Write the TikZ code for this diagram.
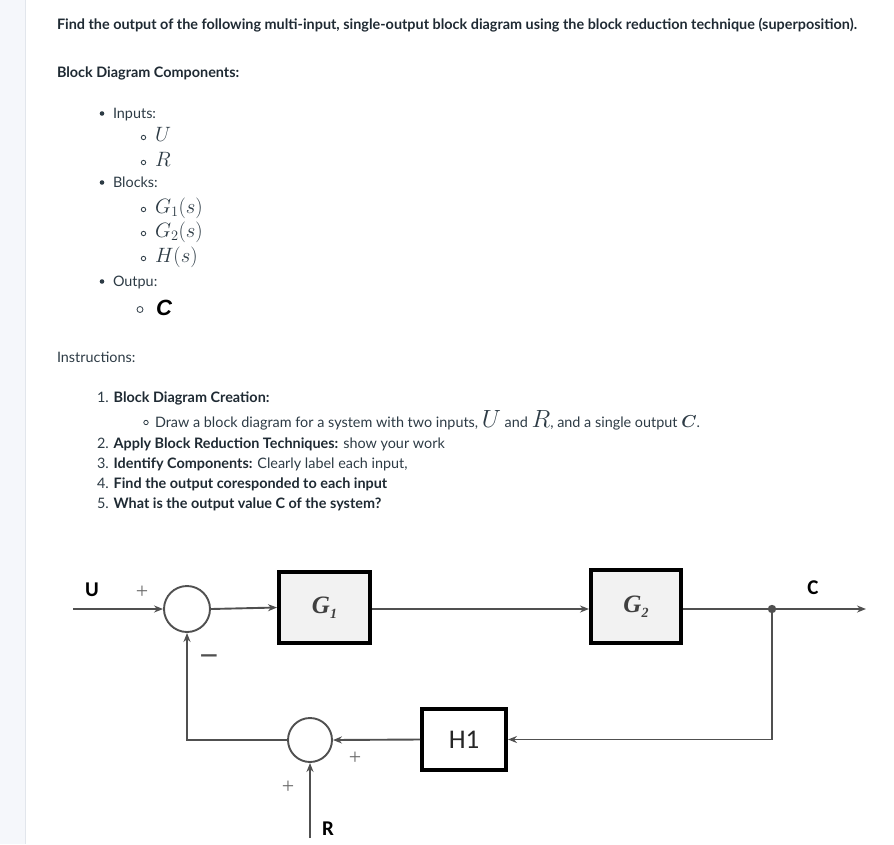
\documentclass[tikz,border=0pt]{standalone}
\usepackage{amsmath}
\usepackage{fontspec}
\setmainfont{Lato}
\newfontfamily\carlito{Carlito}
\newfontfamily\libserif{Liberation Serif}
\newfontfamily\libsans{Liberation Sans}
\usetikzlibrary{arrows.meta}
\definecolor{txt}{HTML}{2D3B45}
\definecolor{bold}{HTML}{1F2A33}
\definecolor{wire}{HTML}{505050}
\definecolor{boxfill}{HTML}{F2F2F2}
\definecolor{strip}{HTML}{F5F7FB}
\definecolor{stripline}{HTML}{E2E6EC}
\definecolor{sign}{HTML}{6A6A6A}
\tikzset{
  txtnode/.style={anchor=base west, inner sep=0pt, outer sep=0pt, text=txt, font=\fontsize{14.4}{17}\selectfont},
  mathnode/.style={anchor=base west, inner sep=0pt, outer sep=0pt, text=txt, font=\fontsize{22.5}{25}\selectfont},
  bulletA/.style={fill=txt},
  bulletB/.style={draw=txt, line width=0.8pt},
  wireline/.style={draw=wire, line width=1.9pt},
  arr/.style={-{Stealth[length=9pt,width=7pt]}},
  sumc/.style={circle, draw=wire, line width=1.9pt, fill=white, minimum size=46pt, inner sep=0pt},
  blk/.style={rectangle, draw=black, line width=4pt, inner sep=0pt},
  lbl/.style={inner sep=0pt, font=\carlito\bfseries\fontsize{21}{21}\selectfont, text=black},
  sgn/.style={inner sep=0pt, text=sign, font=\libserif\fontsize{22}{22}\selectfont}
}
\begin{document}
\begin{tikzpicture}[x=1pt,y=-1pt]
\useasboundingbox (0,0) rectangle (894,844);
\fill[strip] (0,0) rectangle (25,844);
\draw[stripline, line width=1pt] (25.5,0) -- (25.5,844);

% ---------- text ----------
\node[txtnode, text=bold] (t1) at (57,29) {\bfseries Find the output of the following multi-input, single-output block diagram using the block reduction technique (superposition).};
\node[txtnode, text=bold] (t2) at (57,77) {\bfseries Block Diagram Components:};

\fill[bulletA] (102,113.5) circle (2.3);
\node[txtnode] (t3) at (113,118) {Inputs:};
\draw[bulletB] (143.5,137.5) circle (2.2);
\node[mathnode] (t4) at (155,141) {$U$};
\draw[bulletB] (143.5,162.5) circle (2.2);
\node[mathnode] (t5) at (155,166) {$R$};
\fill[bulletA] (102,182.5) circle (2.3);
\node[txtnode] (t6) at (113,187) {Blocks:};
\draw[bulletB] (143.5,209.5) circle (2.2);
\node[mathnode] (t7) at (155,213) {$G_1(s)$};
\draw[bulletB] (143.5,233.5) circle (2.2);
\node[mathnode] (t8) at (155,237) {$G_2(s)$};
\draw[bulletB] (143.5,258.5) circle (2.2);
\node[mathnode] (t9) at (155,262) {$H(s)$};
\fill[bulletA] (102,281.5) circle (2.3);
\node[txtnode] (t10) at (113,286) {Outpu:};
\draw[bulletB] (140,309.5) circle (3);
\node[txtnode, text=black, font=\libsans\bfseries\itshape\fontsize{22}{22}\selectfont] (t11) at (156,315) {\textit{C}};

\node[txtnode] (t12) at (57,362) {Instructions:};
\node[txtnode] (t13) at (97,402) {1. \textbf{\color{bold}Block Diagram Creation:}};
\draw[bulletB] (146,422.5) circle (2.2);
\node[txtnode] (t14) at (155,427) {Draw a block diagram for a system with two inputs, {\fontsize{23}{23}\selectfont$U$} and {\fontsize{23}{23}\selectfont$R$}, and a single output {\fontsize{18}{18}\selectfont$\boldsymbol{C}$}.};
\node[txtnode] (t15) at (97,448) {2. \textbf{\color{bold}Apply Block Reduction Techniques:} show your work};
\node[txtnode] (t16) at (97,468) {3. \textbf{\color{bold}Identify Components:} Clearly label each input,};
\node[txtnode] (t17) at (97,488) {4. \textbf{\color{bold}Find the output coresponded to each input}};
\node[txtnode] (t18) at (97,508) {5. \textbf{\color{bold}What is the output value C of the system?}};

% ---------- block diagram ----------
\node[sumc] (s1) at (187,609) {};
\node[blk, fill=boxfill, minimum width=91pt, minimum height=71pt] (g1) at (324.5,607.5) {{\libserif\bfseries\itshape\fontsize{25}{25}\selectfont\color{black!75}G\raisebox{-0.22em}{\fontsize{14}{14}\selectfont 1}}};
\node[blk, fill=boxfill, minimum width=90pt, minimum height=73pt] (g2) at (636,606.5) {{\libserif\bfseries\itshape\fontsize{25}{25}\selectfont\color{black!75}G\raisebox{-0.22em}{\fontsize{14}{14}\selectfont 2}}};
\node[blk, fill=white, minimum width=84pt, minimum height=61pt] (h1) at (464,739.5) {{\carlito\fontsize{27}{27}\selectfont\color{black!85}H1}};
\node[sumc, minimum size=44pt] (s2) at (310,740) {};

\coordinate (uin) at (73,609);
\coordinate (j) at (772,609);
\coordinate (cout) at (866,609);
\coordinate (rin) at (310,838);

\draw[wireline, arr] (uin) -- (s1.west);
\draw[wireline, arr] (s1.east) -- (g1.west);
\draw[wireline, arr] (g1.east |- s1.east) -- (g2.west |- s1.east);
\draw[wireline] (g2.east |- j) -- (j);
\draw[wireline, arr] (j) -- (cout);
\fill[wire] (j) circle (4.2);
\draw[wireline, arr] (j) |- (h1.east);
\draw[wireline, arr] (h1.west) -- (s2.east);
\draw[wireline, arr] (s2.west) -| (s1.south);
\draw[wireline, arr] (rin) -- (s2.south);

% labels
\node[lbl] (lu) at (92,590) {U};
\node[lbl] (lc) at (813,588) {C};
\node[lbl] (lr) at (328,829) {R};
\node[sgn] (p1) at (142,592) {+};
\node[sgn, anchor=base, text=wire, font=\libsans\fontsize{32}{32}\selectfont] (m1) at (209,666) {−};
\node[sgn] (p2) at (355,758) {+};
\node[sgn] (p3) at (288,787) {+};
\end{tikzpicture}
\end{document}
